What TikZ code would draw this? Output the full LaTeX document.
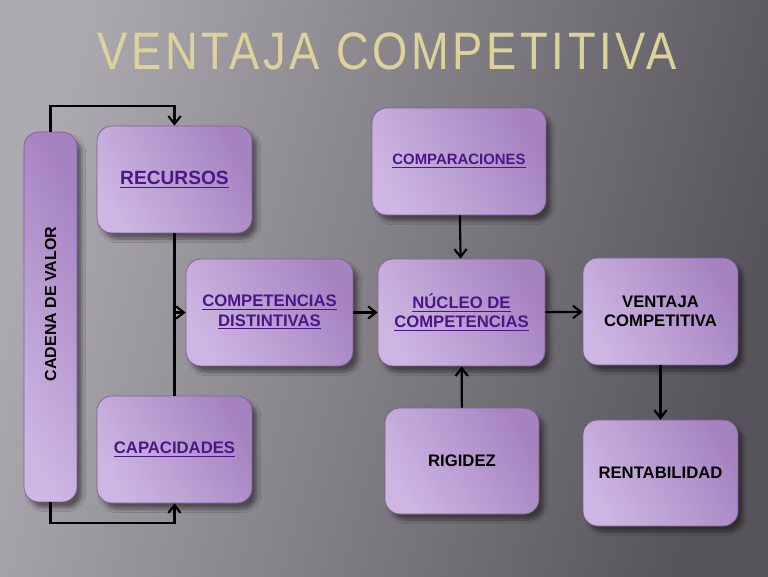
\documentclass[tikz,border=0pt]{standalone}
\usepackage{fontspec}
\setmainfont{Liberation Sans}
\newfontfamily\titlefont[LetterSpace=8]{Liberation Sans}
\usepackage{tikz}
\usetikzlibrary{calc, arrows, arrows.meta, shapes, shadows.blur}
\definecolor{bgleft}{HTML}{ADA9B0}
\definecolor{bgright}{HTML}{56545A}
\definecolor{boxlight}{HTML}{CDB6E2}
\definecolor{boxdark}{HTML}{A583C1}
\definecolor{boxline}{HTML}{7F5F9A}
\definecolor{lila}{HTML}{4A1688}
\definecolor{oro}{HTML}{DDD29A}
\tikzstyle{caja} = [
    rectangle,
    rounded corners = 0.3cm,
    minimum width = 3.1cm,
    minimum height = 2.14cm,
    inner sep = 1pt,
    align = center,
    font = \bfseries\fontsize{9.5}{11}\selectfont,
    draw = boxline,
    left color = boxlight,
    right color = boxdark,
    shading angle = 120,
    blur shadow = {shadow xshift=0.1cm, shadow yshift=-0.12cm, shadow opacity=45, shadow blur steps=8}
]
\tikzstyle{enlace} = [
    text = lila
]
\tikzstyle{flecha} = [
    draw = black,
    line width = 1.2pt
]
\newcommand{\enl}[1]{\underline{#1}}

\begin{document}
\begin{tikzpicture}[x=0.02cm, y=-0.02cm, >={Straight Barb[length=4.5pt,width=7pt]}]

        %% Background
        \shade[left color=bgleft, right color=bgright, shading angle=75] (0,0) rectangle (768,576);
        \useasboundingbox (0,0) rectangle (768,576);

        %% Title
        \node (titulo) [text=oro, font=\titlefont\fontsize{30}{32}\selectfont] at (387,51) {\scalebox{0.86}[1]{VENTAJA COMPETITIVA}};

        %% Boxes
        \node (cadena) [caja, minimum width=1.06cm, minimum height=7.4cm, font=\bfseries\fontsize{9.1}{11}\selectfont] at (50.5,317) {\rotatebox{90}{\hspace*{0.52cm}CADENA DE VALOR}};
        \node (recursos) [caja, enlace, font=\bfseries\fontsize{10.9}{12}\selectfont] at (174.5,179.5) {\enl{RECURSOS}};
        \node (capacidades) [caja, enlace] at (174.5,449.5) {\enl{CAPACIDADES}};
        \node (comparaciones) [caja, enlace, minimum width=3.48cm, font=\bfseries\fontsize{8.5}{10}\selectfont] at (459,161.5) {\enl{COMPARACIONES}};
        \node (competencias) [caja, enlace, minimum width=3.34cm] at (269.5,312.5) {\enl{COMPETENCIAS}\\\enl{DISTINTIVAS}};
        \node (nucleo) [caja, enlace, minimum width=3.34cm] at (461.5,312.5) {\enl{NÚCLEO DE}\\\enl{COMPETENCIAS}};
        \node (ventaja) [caja] at (660.5,311.5) {VENTAJA\\COMPETITIVA};
        \node (rigidez) [caja, minimum width=3.08cm, minimum height=2.12cm] at (462,461) {RIGIDEZ};
        \node (rentabilidad) [caja, minimum height=2.12cm] at (660.5,473) {RENTABILIDAD};

        %% Connectors
        \draw[flecha, ->] (cadena.north) -- ++(0,-26) -| (recursos.north);
        \draw[flecha, ->] (cadena.south) -- ++(0,21) -| (capacidades.south);
        \draw[flecha] (recursos.south) -- (capacidades.north);
        \draw[flecha, ->] (recursos.south |- competencias.west) -- (competencias.west);
        \draw[flecha, ->] (competencias) -- (nucleo);
        \draw[flecha, ->] (comparaciones) -- (nucleo);
        \draw[flecha, ->] (rigidez) -- (nucleo);
        \draw[flecha, ->] (nucleo) -- (ventaja);
        \draw[flecha, ->] (ventaja) -- (rentabilidad);

    \end{tikzpicture}
\end{document}
